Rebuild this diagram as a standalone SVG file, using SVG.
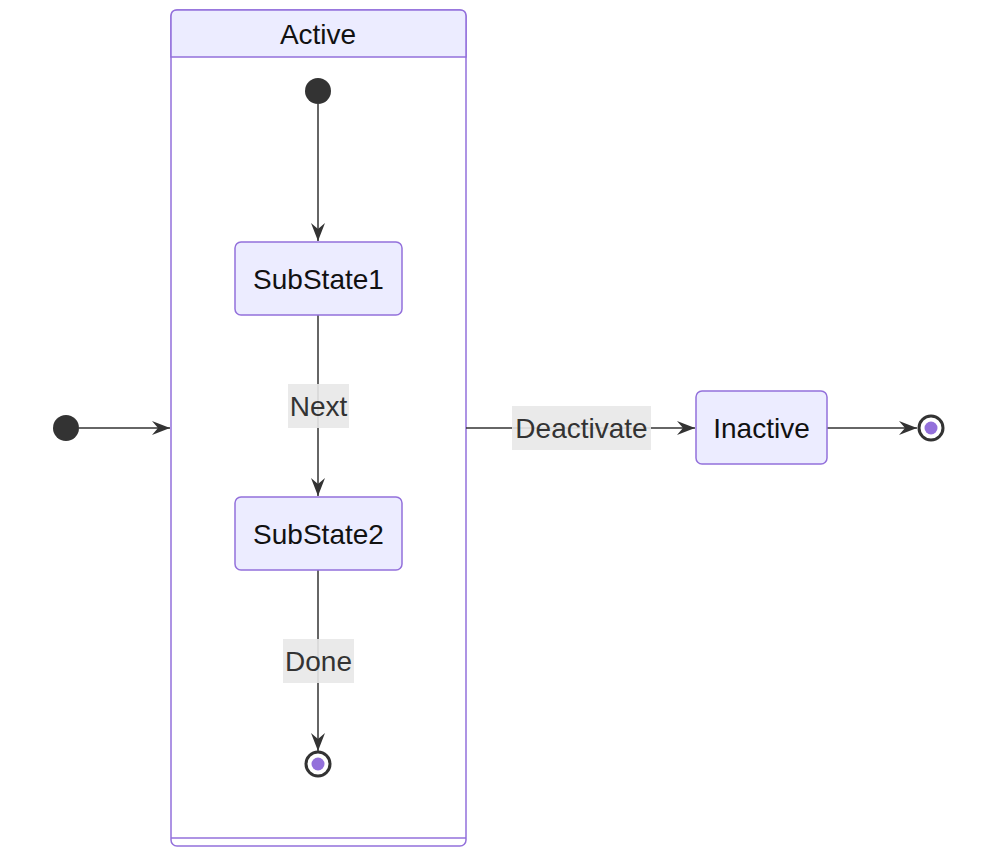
<svg xmlns="http://www.w3.org/2000/svg" width="989" height="856" viewBox="0 0 989 856">
<style>
.st{fill:#ECECFF;stroke:#9370DB;stroke-width:1.5}
.t{font-family:"Liberation Sans",Arial,sans-serif;font-size:28px;fill:#111;text-anchor:middle;dominant-baseline:central}
.lb{fill:#e8e8e8;opacity:0.9}
.lt{font-family:"Liberation Sans",Arial,sans-serif;font-size:28px;fill:#333;text-anchor:middle;dominant-baseline:central}
.e{stroke:#333;stroke-width:1.5;fill:none;marker-end:url(#a)}
</style>
<defs>
<marker id="a" markerWidth="20" markerHeight="14" refX="18" refY="7" orient="auto" markerUnits="userSpaceOnUse">
<path d="M0,0 L18,7 L0,14 L6,7 Z" fill="#333"/>
</marker>
</defs>
<g id="Active">
<rect x="171" y="10" width="295" height="836" rx="6" fill="#fff" stroke="#9370DB" stroke-width="1.5"/>
<path d="M171,57 V16 Q171,10 177,10 H460 Q466,10 466,16 V57 Z" fill="#ECECFF" stroke="#9370DB" stroke-width="1.5"/>
<line x1="171" y1="838" x2="466" y2="838" stroke="#9370DB" stroke-width="1.5"/>
<text class="t" x="318" y="34">Active</text>
</g>
<g id="edges">
<line class="e" x1="318" y1="104" x2="318" y2="241"/>
<line class="e" x1="318" y1="315" x2="318" y2="496"/>
<line class="e" x1="318" y1="570" x2="318" y2="751"/>
<line class="e" x1="79" y1="428" x2="170" y2="428"/>
<line class="e" x1="466" y1="428" x2="695" y2="428"/>
<line class="e" x1="827" y1="428" x2="917" y2="428"/>
<rect class="lb" x="288" y="384" width="61" height="44"/><text class="lt" x="318.5" y="406">Next</text>
<rect class="lb" x="283" y="639" width="71" height="44"/><text class="lt" x="318.5" y="661">Done</text>
<rect class="lb" x="512" y="406" width="139" height="44"/><text class="lt" x="581.5" y="428">Deactivate</text>
</g>
<g id="start_inner"><circle cx="318" cy="91" r="13" fill="#333"/></g>
<g id="SubState1"><rect class="st" x="235" y="242" width="167" height="73" rx="6"/><text class="t" x="318.5" y="279">SubState1</text></g>
<g id="SubState2"><rect class="st" x="235" y="497" width="167" height="73" rx="6"/><text class="t" x="318.5" y="534">SubState2</text></g>
<g id="end_inner"><circle cx="318" cy="764" r="12" fill="#fff" stroke="#333" stroke-width="3"/><circle cx="318" cy="764" r="6.5" fill="#9370DB"/></g>
<g id="start"><circle cx="66" cy="428" r="13" fill="#333"/></g>
<g id="Inactive"><rect class="st" x="696" y="391" width="131" height="73" rx="6"/><text class="t" x="761.5" y="428">Inactive</text></g>
<g id="end"><circle cx="931" cy="428" r="12" fill="#fff" stroke="#333" stroke-width="3"/><circle cx="931" cy="428" r="6.5" fill="#9370DB"/></g>
</svg>
